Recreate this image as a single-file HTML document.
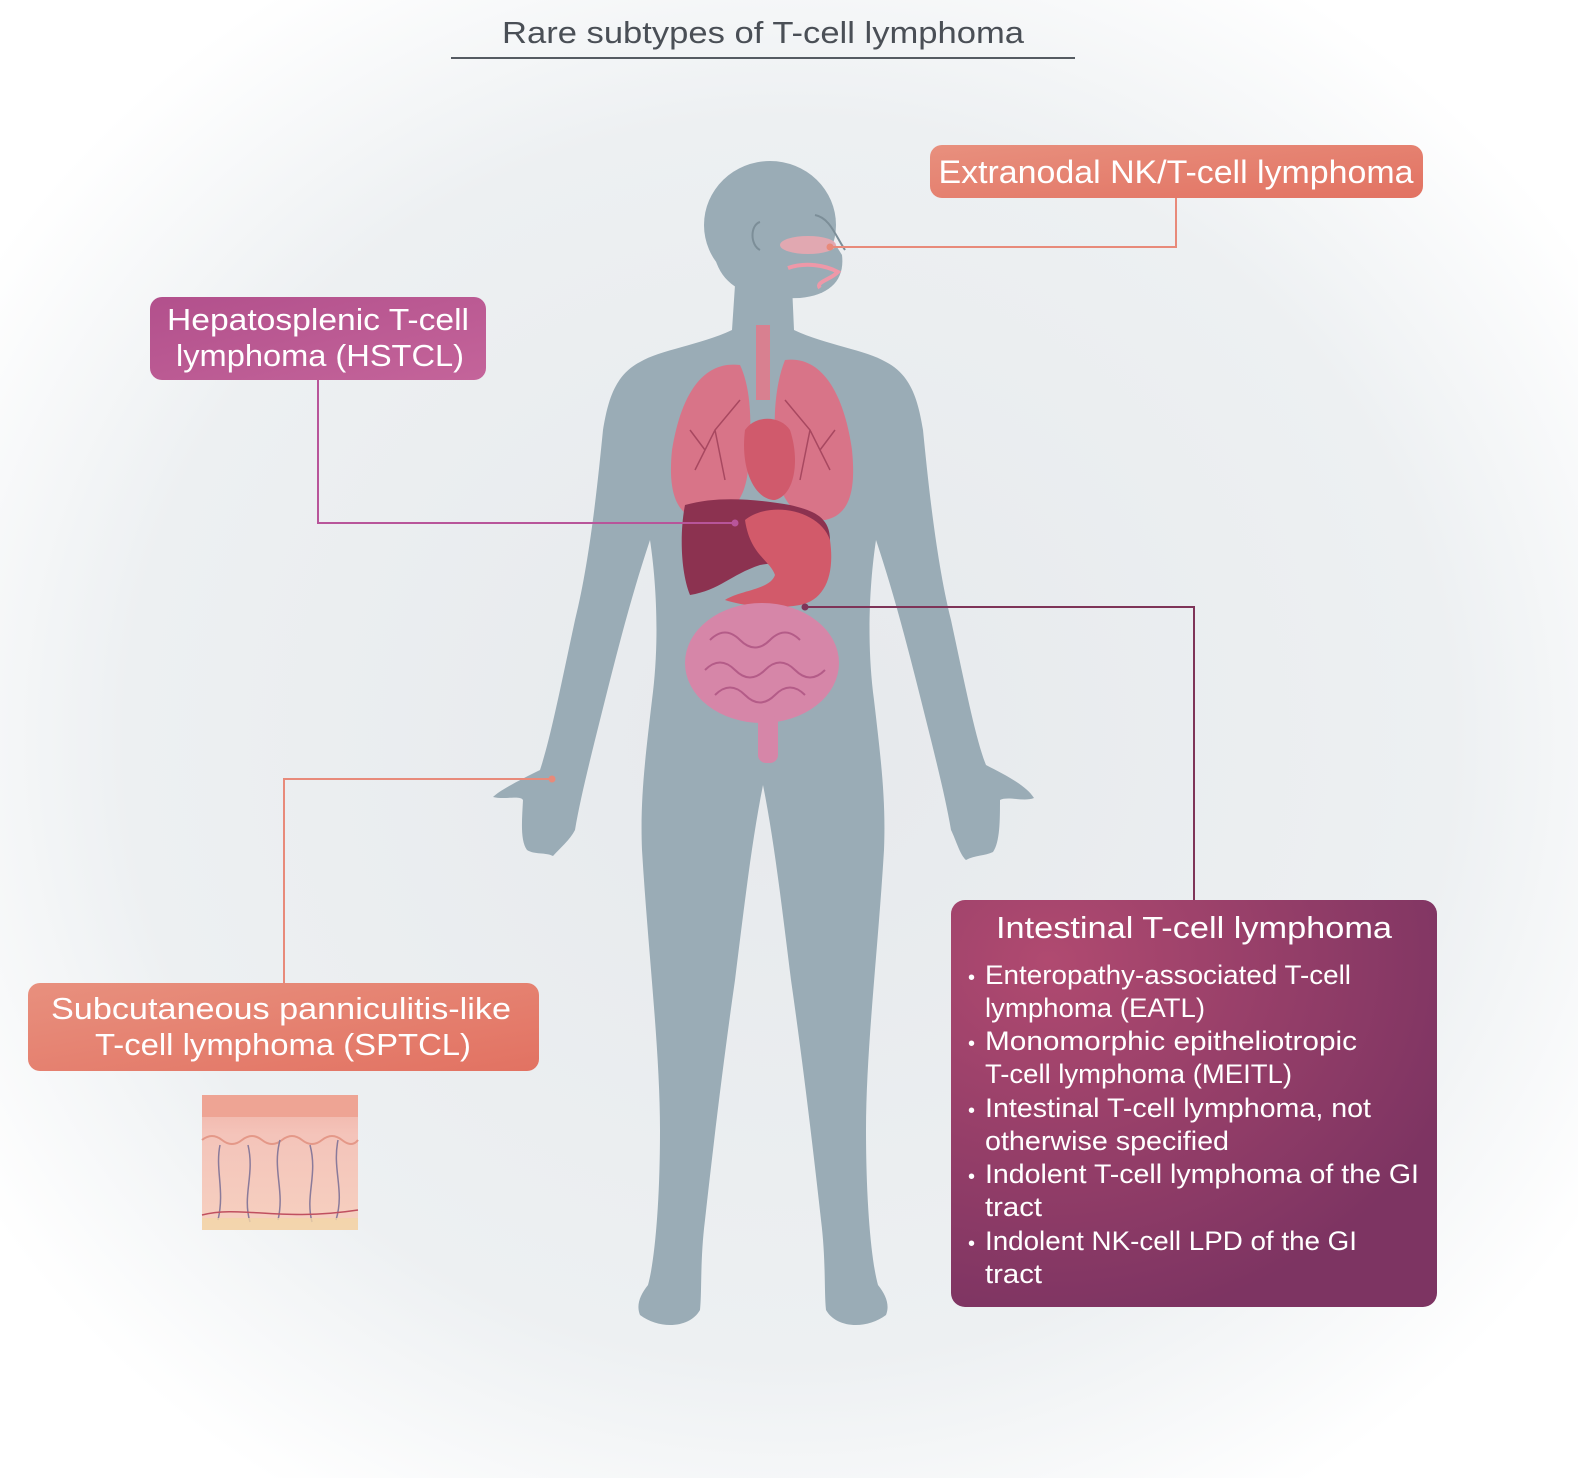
<!DOCTYPE html>
<html><head><meta charset="utf-8"><style>
html,body{margin:0;padding:0;background:#fff}
svg{display:block}
text{font-family:"Liberation Sans",sans-serif}
</style></head><body>
<svg width="1578" height="1478" viewBox="0 0 1578 1478" xmlns="http://www.w3.org/2000/svg">
<defs>
<radialGradient id="bg" cx="50%" cy="50%" r="60%">
<stop offset="0" stop-color="#e6e9ec"/><stop offset="0.7" stop-color="#edf0f2"/><stop offset="1" stop-color="#ffffff"/>
</radialGradient>
<linearGradient id="salmon" x1="0" y1="0" x2="1" y2="1"><stop offset="0" stop-color="#e8907e"/><stop offset="1" stop-color="#e27262"/></linearGradient>
<linearGradient id="purp" x1="0" y1="0" x2="1" y2="1"><stop offset="0" stop-color="#b2508c"/><stop offset="1" stop-color="#c4649a"/></linearGradient>
<radialGradient id="maroon" cx="20%" cy="15%" r="90%"><stop offset="0" stop-color="#b04a70"/><stop offset="1" stop-color="#7d3462"/></radialGradient>
<linearGradient id="skin" x1="0" y1="0" x2="0" y2="1"><stop offset="0" stop-color="#f0b2a6"/><stop offset="0.3" stop-color="#f4c4ba"/><stop offset="1" stop-color="#f6d0c0"/></linearGradient>
</defs>
<rect width="1578" height="1478" fill="url(#bg)"/>
<text x="763" y="43" font-size="31" fill="#4a4f56" text-anchor="middle" textLength="522" lengthAdjust="spacingAndGlyphs">Rare subtypes of T-cell lymphoma</text>
<line x1="451" y1="58" x2="1075" y2="58" stroke="#555b62" stroke-width="2"/>

<!-- body -->
<g fill="#9aacb6">
<path d="M735,285 L732,330 C700,345 660,350 640,362 C615,375 608,400 603,430 C598,480 590,560 575,620 C560,690 550,740 540,770 C520,780 500,790 493,797 C505,800 520,795 523,800 C522,820 520,840 527,850 C535,855 545,852 553,856 C560,848 570,840 575,830 C580,800 590,760 600,720 C615,660 630,600 650,540 C656,580 660,640 652,700 C645,760 640,800 642,850 C648,950 660,1050 660,1130 C660,1200 655,1260 648,1285 C640,1295 636,1305 640,1315 C660,1330 690,1328 700,1310 C702,1290 700,1260 705,1220 C715,1130 725,1050 735,980 C745,900 752,840 763,785 C774,840 781,900 791,980 C801,1050 811,1130 821,1220 C826,1260 824,1290 826,1310 C836,1328 866,1330 886,1315 C890,1305 886,1295 878,1285 C871,1260 866,1200 866,1130 C866,1050 878,950 884,850 C886,800 881,760 874,700 C866,640 870,580 876,540 C896,600 911,660 926,720 C936,760 946,800 951,830 C956,840 960,855 966,860 C975,855 985,856 993,852 C1000,842 1000,820 1000,800 C1008,796 1024,802 1034,798 C1026,785 1005,775 986,765 C976,740 966,690 951,620 C936,560 928,480 923,430 C918,400 911,375 886,362 C866,350 826,345 794,330 L792,285 Z"/>
<ellipse cx="770" cy="225" rx="66" ry="64"/>
<path d="M712,240 C715,290 750,300 800,298 C830,295 845,280 842,255 L820,220 Z"/>
</g>
<!-- face details -->
<path d="M760,222 C750,225 750,245 760,250" fill="none" stroke="#7c8e98" stroke-width="2"/>
<path d="M815,215 C830,218 835,235 845,250" fill="none" stroke="#7c8e98" stroke-width="2"/>
<ellipse cx="808" cy="245" rx="28" ry="9" fill="#f2a8b0" opacity="0.8"/>
<path d="M788,268 C805,262 825,265 838,272 C830,280 815,282 820,288" fill="none" stroke="#ee98a8" stroke-width="4"/>

<!-- organs -->
<rect x="756" y="325" width="14" height="75" fill="#d88090"/>
<path d="M740,365 C700,360 680,400 672,450 C668,490 675,515 700,520 C730,520 745,500 748,470 C752,430 752,390 740,365 Z" fill="#d87488"/>
<path d="M785,360 C825,355 845,400 852,450 C856,490 850,515 825,520 C795,520 780,500 777,470 C773,430 773,390 785,360 Z" fill="#d87488"/>
<g stroke="#a84860" stroke-width="1.5" fill="none">
<path d="M740,400 L715,430 L695,470 M715,430 L725,480 M705,450 L690,430"/>
<path d="M785,400 L810,430 L830,470 M810,430 L800,480 M820,450 L835,430"/>
</g>
<path d="M745,430 C740,470 755,500 775,500 C795,495 800,460 790,430 C780,415 755,415 745,430 Z" fill="#d05a6c"/>
<path d="M685,505 C720,495 760,500 790,505 C810,510 830,515 830,540 C820,560 790,560 760,565 C730,575 720,590 690,595 C680,570 680,530 685,505 Z" fill="#8c3250"/>
<path d="M745,520 C770,500 820,510 830,540 C835,575 825,600 800,605 C770,610 740,605 725,600 C740,590 770,590 775,575 C770,560 750,555 745,520 Z" fill="#d25a6a"/>
<ellipse cx="762" cy="663" rx="77" ry="60" fill="#d686a8"/>
<g stroke="#b45c88" stroke-width="2" fill="none">
<path d="M710,640 q15,-15 30,0 t30,0 t30,0 M705,670 q15,-15 30,0 t30,0 t30,0 t30,0 M715,695 q15,-15 30,0 t30,0 t30,0"/>
</g>
<rect x="758" y="715" width="20" height="48" rx="8" fill="#d686a8"/>

<!-- connectors -->
<g fill="none" stroke-width="2">
<path d="M1176,198 V247 H830" stroke="#e88a7a"/>
<path d="M318,380 V523 H735" stroke="#b8559a"/>
<path d="M805,607 H1194 V900" stroke="#7e3458"/>
<path d="M284,983 V779 H552" stroke="#e88a7a"/>
</g>
<circle cx="830" cy="247" r="3.5" fill="#e88a7a"/>
<circle cx="735" cy="523" r="3.5" fill="#b8559a"/>
<circle cx="805" cy="607" r="3.5" fill="#7e3458"/>
<circle cx="552" cy="779" r="3.5" fill="#e88a7a"/>

<!-- boxes -->
<rect x="930" y="145" width="493" height="53" rx="12" fill="url(#salmon)"/>
<text x="1176" y="183" font-size="32" fill="#fff" text-anchor="middle" textLength="475" lengthAdjust="spacingAndGlyphs">Extranodal NK/T-cell lymphoma</text>

<rect x="150" y="297" width="336" height="83" rx="12" fill="url(#purp)"/>
<text x="318" y="330" font-size="31" fill="#fff" text-anchor="middle" textLength="302" lengthAdjust="spacingAndGlyphs">Hepatosplenic T-cell</text>
<text x="320" y="366" font-size="31" fill="#fff" text-anchor="middle" textLength="288" lengthAdjust="spacingAndGlyphs">lymphoma (HSTCL)</text>

<rect x="28" y="983" width="511" height="88" rx="12" fill="url(#salmon)"/>
<text x="281" y="1019" font-size="31" fill="#fff" text-anchor="middle" textLength="460" lengthAdjust="spacingAndGlyphs">Subcutaneous panniculitis-like</text>
<text x="283" y="1055" font-size="31" fill="#fff" text-anchor="middle" textLength="376" lengthAdjust="spacingAndGlyphs">T-cell  lymphoma (SPTCL)</text>

<rect x="951" y="900" width="486" height="407" rx="14" fill="url(#maroon)"/>
<g fill="#fff">
<text x="1194" y="938" font-size="31" text-anchor="middle" textLength="396" lengthAdjust="spacingAndGlyphs">Intestinal T-cell lymphoma</text>
<g font-size="27">
<text x="968" y="984" font-size="20">•</text>
<text x="985" y="984" textLength="366" lengthAdjust="spacingAndGlyphs">Enteropathy-associated T-cell</text>
<text x="985" y="1017" textLength="220" lengthAdjust="spacingAndGlyphs">lymphoma (EATL)</text>
<text x="968" y="1050" font-size="20">•</text>
<text x="985" y="1050" textLength="372" lengthAdjust="spacingAndGlyphs">Monomorphic epitheliotropic</text>
<text x="985" y="1083" textLength="307" lengthAdjust="spacingAndGlyphs">T-cell lymphoma (MEITL)</text>
<text x="968" y="1117" font-size="20">•</text>
<text x="985" y="1117" textLength="386" lengthAdjust="spacingAndGlyphs">Intestinal T-cell lymphoma, not</text>
<text x="985" y="1150" textLength="244" lengthAdjust="spacingAndGlyphs">otherwise specified</text>
<text x="968" y="1183" font-size="20">•</text>
<text x="985" y="1183" textLength="434" lengthAdjust="spacingAndGlyphs">Indolent T-cell lymphoma of the GI</text>
<text x="985" y="1216" textLength="57" lengthAdjust="spacingAndGlyphs">tract</text>
<text x="968" y="1250" font-size="20">•</text>
<text x="985" y="1250" textLength="372" lengthAdjust="spacingAndGlyphs">Indolent NK-cell LPD of the GI</text>
<text x="985" y="1283" textLength="57" lengthAdjust="spacingAndGlyphs">tract</text>
</g></g>

<!-- skin block -->
<rect x="202" y="1095" width="156" height="135" fill="url(#skin)"/>
<rect x="202" y="1095" width="156" height="22" fill="#eea494"/>
<path d="M202,1140 q10,-8 20,0 t20,0 t20,0 t20,0 t20,0 t20,0 t20,0 t16,0" fill="none" stroke="#e49888" stroke-width="2"/>
<g fill="none" stroke="#8a7a9a" stroke-width="1.5">
<path d="M220,1145 C215,1170 225,1190 218,1220 M248,1145 C255,1175 242,1195 250,1222 M280,1140 C272,1170 285,1190 278,1220 M310,1145 C318,1175 305,1195 312,1222 M338,1140 C332,1170 345,1190 336,1220"/>
<path d="M202,1215 C240,1205 280,1222 358,1210" stroke="#c05060"/>
</g>
<rect x="202" y="1218" width="156" height="12" fill="#f2d6a8" opacity="0.8"/>
</svg>
</body></html>
